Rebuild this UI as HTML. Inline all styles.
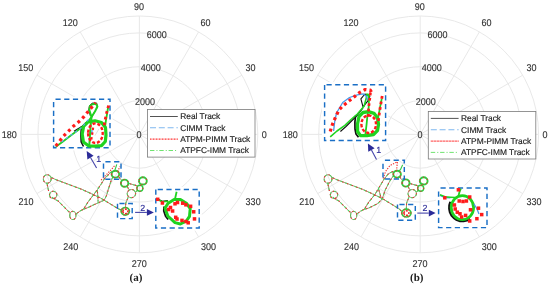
<!DOCTYPE html>
<html><head><meta charset="utf-8"><style>
html,body{margin:0;padding:0;background:#fff;}
svg{display:block;}
#w{width:550px;height:287px;overflow:hidden;}
.t{font-family:"Liberation Sans",Arial,sans-serif;font-size:9.8px;fill:#303030;stroke:#303030;stroke-width:0.12px;text-rendering:geometricPrecision;}
.lg{font-family:"Liberation Sans",Arial,sans-serif;font-size:8.4px;fill:#202020;stroke:#202020;stroke-width:0.15px;text-rendering:geometricPrecision;}
.an{font-family:"Liberation Sans",Arial,sans-serif;font-size:8.9px;fill:#2b2b98;stroke:#2b2b98;stroke-width:0.15px;text-rendering:geometricPrecision;}
.cap{font-family:"Liberation Serif","Times New Roman",serif;font-size:11px;font-weight:bold;fill:#202020;text-rendering:geometricPrecision;}
</style></head><body><div id="w">
<svg width="550" height="287" viewBox="0 0 550 287">
<rect width="550" height="287" fill="#fff"/>
<circle cx="139.4" cy="134.4" r="33.83" fill="none" stroke="#e7e7e7" stroke-width="0.95"/>
<circle cx="139.4" cy="134.4" r="67.66" fill="none" stroke="#e7e7e7" stroke-width="0.95"/>
<circle cx="139.4" cy="134.4" r="101.49" fill="none" stroke="#e7e7e7" stroke-width="0.95"/>
<circle cx="139.4" cy="134.4" r="118.4" fill="none" stroke="#e7e7e7" stroke-width="0.95"/>
<line x1="139.4" y1="134.4" x2="257.8" y2="134.4" stroke="#e7e7e7" stroke-width="0.95"/>
<line x1="139.4" y1="134.4" x2="241.94" y2="75.2" stroke="#e7e7e7" stroke-width="0.95"/>
<line x1="139.4" y1="134.4" x2="198.6" y2="31.86" stroke="#e7e7e7" stroke-width="0.95"/>
<line x1="139.4" y1="134.4" x2="139.4" y2="16" stroke="#e7e7e7" stroke-width="0.95"/>
<line x1="139.4" y1="134.4" x2="80.2" y2="31.86" stroke="#e7e7e7" stroke-width="0.95"/>
<line x1="139.4" y1="134.4" x2="36.86" y2="75.2" stroke="#e7e7e7" stroke-width="0.95"/>
<line x1="139.4" y1="134.4" x2="21" y2="134.4" stroke="#e7e7e7" stroke-width="0.95"/>
<line x1="139.4" y1="134.4" x2="36.86" y2="193.6" stroke="#e7e7e7" stroke-width="0.95"/>
<line x1="139.4" y1="134.4" x2="80.2" y2="236.94" stroke="#e7e7e7" stroke-width="0.95"/>
<line x1="139.4" y1="134.4" x2="139.4" y2="252.8" stroke="#e7e7e7" stroke-width="0.95"/>
<line x1="139.4" y1="134.4" x2="198.6" y2="236.94" stroke="#e7e7e7" stroke-width="0.95"/>
<line x1="139.4" y1="134.4" x2="241.94" y2="193.6" stroke="#e7e7e7" stroke-width="0.95"/>
<text transform="translate(139,9.5) scale(0.92,1)" text-anchor="middle" class="t">90</text>
<text transform="translate(200.6,26.3) scale(0.92,1)" text-anchor="start" class="t">60</text>
<text transform="translate(245.6,71.1) scale(0.92,1)" text-anchor="start" class="t">30</text>
<text transform="translate(261.7,137.9) scale(0.92,1)" text-anchor="start" class="t">0</text>
<text transform="translate(77.8,26.4) scale(0.92,1)" text-anchor="end" class="t">120</text>
<text transform="translate(33.3,71) scale(0.92,1)" text-anchor="end" class="t">150</text>
<text transform="translate(16.9,137.7) scale(0.92,1)" text-anchor="end" class="t">180</text>
<text transform="translate(33.6,205.2) scale(0.92,1)" text-anchor="end" class="t">210</text>
<text transform="translate(78.2,250) scale(0.92,1)" text-anchor="end" class="t">240</text>
<text transform="translate(139.15,266.8) scale(0.92,1)" text-anchor="middle" class="t">270</text>
<text transform="translate(201,250) scale(0.92,1)" text-anchor="start" class="t">300</text>
<text transform="translate(245.6,205.2) scale(0.92,1)" text-anchor="start" class="t">330</text>
<text transform="translate(139.1,137.85) scale(0.92,1)" text-anchor="middle" class="t">0</text>
<text transform="translate(144.97,104.54) scale(0.92,1)" text-anchor="middle" class="t">2000</text>
<text transform="translate(150.85,71.22) scale(0.92,1)" text-anchor="middle" class="t">4000</text>
<text transform="translate(156.72,37.91) scale(0.92,1)" text-anchor="middle" class="t">6000</text>
<path d="M50.6,177L55,179.3L82,189.4L100.4,197.9L118,208.6L122,210.5M46.9,183L48.6,191M52,197.2L55,199.5L57.9,200.8L63.8,206.7L68.8,211.7L70.3,212.5M76,214L80,211L83.5,209.3M83.5,209.3L88,202L93.5,194.8L97.5,189.5L101.5,183.5L104.5,178.7L110.5,172.5L112.6,171.5M83.5,209.3L88,207.5L97.3,203.2L104.2,200.2L106.5,195.5L108.8,187.9L111,181L113,176.5M97.3,190L97.8,196L98.1,201.7M118,176L121.6,180.3M126.6,185.8L129.5,190.2M135.5,192.2L137.8,190M128.3,183.3L137.3,185.8M141.5,185.4L142.2,184.3M128.2,197.2L125.8,203L125.4,207.4M43.35,178.95a3.9,4.2 0 1,0 7.8,0a3.9,4.2 0 1,0 -7.8,0M49.5,194.9a3.7,3.7 0 1,0 7.4,0a3.7,3.7 0 1,0 -7.4,0M69.75,215.45a3.1,4.1 0 1,0 6.2,0a3.1,4.1 0 1,0 -6.2,0M127.2,193.6a4.2,4.1 0 1,0 8.4,0a4.2,4.1 0 1,0 -8.4,0" fill="none" stroke="#8a7a50" stroke-width="0.8" stroke-linejoin="round"/>
<path d="M50.6,177L55,179.3L82,189.4L100.4,197.9L118,208.6L122,210.5M46.9,183L48.6,191M52,197.2L55,199.5L57.9,200.8L63.8,206.7L68.8,211.7L70.3,212.5M76,214L80,211L83.5,209.3M83.5,209.3L88,202L93.5,194.8L97.5,189.5L101.5,183.5L104.5,178.7L110.5,172.5L112.6,171.5M83.5,209.3L88,207.5L97.3,203.2L104.2,200.2L106.5,195.5L108.8,187.9L111,181L113,176.5M97.3,190L97.8,196L98.1,201.7M118,176L121.6,180.3M126.6,185.8L129.5,190.2M135.5,192.2L137.8,190M128.3,183.3L137.3,185.8M141.5,185.4L142.2,184.3M128.2,197.2L125.8,203L125.4,207.4M43.35,178.95a3.9,4.2 0 1,0 7.8,0a3.9,4.2 0 1,0 -7.8,0M49.5,194.9a3.7,3.7 0 1,0 7.4,0a3.7,3.7 0 1,0 -7.4,0M69.75,215.45a3.1,4.1 0 1,0 6.2,0a3.1,4.1 0 1,0 -6.2,0M127.2,193.6a4.2,4.1 0 1,0 8.4,0a4.2,4.1 0 1,0 -8.4,0" fill="none" stroke="#50d460" stroke-width="1.05" stroke-dasharray="2.4,2.6"/>
<path d="M50.6,177L55,179.3L82,189.4L100.4,197.9L118,208.6L122,210.5M46.9,183L48.6,191M52,197.2L55,199.5L57.9,200.8L63.8,206.7L68.8,211.7L70.3,212.5M76,214L80,211L83.5,209.3M83.5,209.3L88,202L93.5,194.8L97.5,189.5L101.5,183.5L104.5,178.7L110.5,172.5L112.6,171.5M83.5,209.3L88,207.5L97.3,203.2L104.2,200.2L106.5,195.5L108.8,187.9L111,181L113,176.5M97.3,190L97.8,196L98.1,201.7M118,176L121.6,180.3M126.6,185.8L129.5,190.2M135.5,192.2L137.8,190M128.3,183.3L137.3,185.8M141.5,185.4L142.2,184.3M128.2,197.2L125.8,203L125.4,207.4M43.35,178.95a3.9,4.2 0 1,0 7.8,0a3.9,4.2 0 1,0 -7.8,0M49.5,194.9a3.7,3.7 0 1,0 7.4,0a3.7,3.7 0 1,0 -7.4,0M69.75,215.45a3.1,4.1 0 1,0 6.2,0a3.1,4.1 0 1,0 -6.2,0M127.2,193.6a4.2,4.1 0 1,0 8.4,0a4.2,4.1 0 1,0 -8.4,0" fill="none" stroke="#e83434" stroke-width="1.1" stroke-dasharray="1.3,3.7" stroke-dashoffset="3.1"/>
<path d="M111.6,174.2a3.8,3.4 0 1,0 7.6,0a3.8,3.4 0 1,0 -7.6,0" fill="none" stroke="#2ecc40" stroke-width="1.9"/>
<path d="M111.6,174.2a3.8,3.4 0 1,0 7.6,0a3.8,3.4 0 1,0 -7.6,0" fill="none" stroke="#e83030" stroke-width="1.1" stroke-dasharray="1.2,3" />
<path d="M120.9,183.2a3.7,3.6 0 1,0 7.4,0a3.7,3.6 0 1,0 -7.4,0" fill="none" stroke="#2ecc40" stroke-width="1.9"/>
<path d="M120.9,183.2a3.7,3.6 0 1,0 7.4,0a3.7,3.6 0 1,0 -7.4,0" fill="none" stroke="#e83030" stroke-width="1.1" stroke-dasharray="1.2,3" />
<path d="M139,180.9a3.9,3.6 0 1,0 7.8,0a3.9,3.6 0 1,0 -7.8,0" fill="none" stroke="#2ecc40" stroke-width="1.9"/>
<path d="M139,180.9a3.9,3.6 0 1,0 7.8,0a3.9,3.6 0 1,0 -7.8,0" fill="none" stroke="#e83030" stroke-width="1.1" stroke-dasharray="1.2,3" />
<path d="M136.9,188.3a3,3 0 1,0 6,0a3,3 0 1,0 -6,0" fill="none" stroke="#2ecc40" stroke-width="1.4"/>
<path d="M136.9,188.3a3,3 0 1,0 6,0a3,3 0 1,0 -6,0" fill="none" stroke="#e83030" stroke-width="1.1" stroke-dasharray="1.2,3" />
<path d="M121.2,211.3a4.1,3.8 0 1,0 8.2,0a4.1,3.8 0 1,0 -8.2,0" fill="none" stroke="#2ecc40" stroke-width="1.7"/>
<path d="M121.2,211.3a4.1,3.8 0 1,0 8.2,0a4.1,3.8 0 1,0 -8.2,0" fill="none" stroke="#e83030" stroke-width="1.1" stroke-dasharray="1.2,3" />
<path d="M122.9,211.4a2.5,2.3 0 1,0 5,0a2.5,2.3 0 1,0 -5,0" fill="none" stroke="#f02828" stroke-width="1.6" stroke-dasharray="2,1.2"/>
<path d="M114.5,171.3L116.8,164.4" fill="none" stroke="#30cc40" stroke-width="1.1"/>
<path d="M117.4,171.6L120,166.5" fill="none" stroke="#f03030" stroke-width="1.1" stroke-dasharray="1.3,1.3"/>
<path d="M101.1,180.1L106,175L111,170L115.3,164.9" fill="none" stroke="#f03030" stroke-width="1.1" stroke-dasharray="1.3,1.3"/>
<rect x="147.5" y="109.5" width="107.5" height="47.6" fill="#fff" stroke="#7a7a7a" stroke-width="0.8"/>
<line x1="150" y1="116.5" x2="177.8" y2="116.5" stroke="#404040" stroke-width="0.9"/>
<text x="180.2" y="119.4" class="lg">Real Track</text>
<line x1="150" y1="127.8" x2="177.8" y2="127.8" stroke="#7fb8f0" stroke-width="1.1" stroke-dasharray="6,2.8"/>
<text x="180.2" y="130.7" class="lg">CIMM Track</text>
<line x1="150" y1="139.2" x2="177.8" y2="139.2" stroke="#ff2020" stroke-width="1.2" stroke-dasharray="0.9,0.6"/>
<text x="180.2" y="142.1" class="lg">ATPM-PIMM Track</text>
<line x1="150" y1="150.5" x2="177.8" y2="150.5" stroke="#60e060" stroke-width="0.9" stroke-dasharray="4.4,2,1.1,1.8"/>
<text x="180.2" y="153.4" class="lg">ATPFC-IMM Track</text>
<text x="136" y="280.9" text-anchor="middle" class="cap">(a)</text>
<circle cx="420.2" cy="134.4" r="33.83" fill="none" stroke="#e7e7e7" stroke-width="0.95"/>
<circle cx="420.2" cy="134.4" r="67.66" fill="none" stroke="#e7e7e7" stroke-width="0.95"/>
<circle cx="420.2" cy="134.4" r="101.49" fill="none" stroke="#e7e7e7" stroke-width="0.95"/>
<circle cx="420.2" cy="134.4" r="118.4" fill="none" stroke="#e7e7e7" stroke-width="0.95"/>
<line x1="420.2" y1="134.4" x2="538.6" y2="134.4" stroke="#e7e7e7" stroke-width="0.95"/>
<line x1="420.2" y1="134.4" x2="522.74" y2="75.2" stroke="#e7e7e7" stroke-width="0.95"/>
<line x1="420.2" y1="134.4" x2="479.4" y2="31.86" stroke="#e7e7e7" stroke-width="0.95"/>
<line x1="420.2" y1="134.4" x2="420.2" y2="16" stroke="#e7e7e7" stroke-width="0.95"/>
<line x1="420.2" y1="134.4" x2="361" y2="31.86" stroke="#e7e7e7" stroke-width="0.95"/>
<line x1="420.2" y1="134.4" x2="317.66" y2="75.2" stroke="#e7e7e7" stroke-width="0.95"/>
<line x1="420.2" y1="134.4" x2="301.8" y2="134.4" stroke="#e7e7e7" stroke-width="0.95"/>
<line x1="420.2" y1="134.4" x2="317.66" y2="193.6" stroke="#e7e7e7" stroke-width="0.95"/>
<line x1="420.2" y1="134.4" x2="361" y2="236.94" stroke="#e7e7e7" stroke-width="0.95"/>
<line x1="420.2" y1="134.4" x2="420.2" y2="252.8" stroke="#e7e7e7" stroke-width="0.95"/>
<line x1="420.2" y1="134.4" x2="479.4" y2="236.94" stroke="#e7e7e7" stroke-width="0.95"/>
<line x1="420.2" y1="134.4" x2="522.74" y2="193.6" stroke="#e7e7e7" stroke-width="0.95"/>
<text transform="translate(419.8,9.5) scale(0.92,1)" text-anchor="middle" class="t">90</text>
<text transform="translate(481.4,26.3) scale(0.92,1)" text-anchor="start" class="t">60</text>
<text transform="translate(526.4,71.1) scale(0.92,1)" text-anchor="start" class="t">30</text>
<text transform="translate(542.5,137.9) scale(0.92,1)" text-anchor="start" class="t">0</text>
<text transform="translate(358.6,26.4) scale(0.92,1)" text-anchor="end" class="t">120</text>
<text transform="translate(314.1,71) scale(0.92,1)" text-anchor="end" class="t">150</text>
<text transform="translate(297.7,137.7) scale(0.92,1)" text-anchor="end" class="t">180</text>
<text transform="translate(314.4,205.2) scale(0.92,1)" text-anchor="end" class="t">210</text>
<text transform="translate(359,250) scale(0.92,1)" text-anchor="end" class="t">240</text>
<text transform="translate(419.95,266.8) scale(0.92,1)" text-anchor="middle" class="t">270</text>
<text transform="translate(481.8,250) scale(0.92,1)" text-anchor="start" class="t">300</text>
<text transform="translate(526.4,205.2) scale(0.92,1)" text-anchor="start" class="t">330</text>
<text transform="translate(419.9,137.85) scale(0.92,1)" text-anchor="middle" class="t">0</text>
<text transform="translate(425.77,104.54) scale(0.92,1)" text-anchor="middle" class="t">2000</text>
<text transform="translate(431.65,71.22) scale(0.92,1)" text-anchor="middle" class="t">4000</text>
<text transform="translate(437.52,37.91) scale(0.92,1)" text-anchor="middle" class="t">6000</text>
<path d="M331.4,177L335.8,179.3L362.8,189.4L381.2,197.9L398.8,208.6L402,211.5M327.7,183L329.4,191M332.8,197.2L335.8,199.5L338.7,200.8L344.6,206.7L349.6,211.7L351.1,212.5M356.8,214L360.8,211L364.3,209.3M364.3,209.3L368.8,202L374.8,194.7L379.2,187.3L383.6,179.9L388.1,174L391.3,172.2L393.4,171.5M364.3,209.3L368.8,208L377.7,203.6L382.2,199.1L385.1,190.3L389.6,181.4L392.5,177L393.8,175.5M378.4,188.5L380,194L381.6,199.5M398.8,176L402.4,180.3M407.4,185.8L410.3,190.2M416.3,192.2L418.6,190M409.1,183.3L418.1,185.8M422.3,185.4L423,184.3M409,197.2L406.6,203L406.3,209.3M324.15,178.95a3.9,4.2 0 1,0 7.8,0a3.9,4.2 0 1,0 -7.8,0M330.3,194.9a3.7,3.7 0 1,0 7.4,0a3.7,3.7 0 1,0 -7.4,0M350.55,215.45a3.1,4.1 0 1,0 6.2,0a3.1,4.1 0 1,0 -6.2,0M408,193.6a4.2,4.1 0 1,0 8.4,0a4.2,4.1 0 1,0 -8.4,0" fill="none" stroke="#8a7a50" stroke-width="0.8" stroke-linejoin="round"/>
<path d="M331.4,177L335.8,179.3L362.8,189.4L381.2,197.9L398.8,208.6L402,211.5M327.7,183L329.4,191M332.8,197.2L335.8,199.5L338.7,200.8L344.6,206.7L349.6,211.7L351.1,212.5M356.8,214L360.8,211L364.3,209.3M364.3,209.3L368.8,202L374.8,194.7L379.2,187.3L383.6,179.9L388.1,174L391.3,172.2L393.4,171.5M364.3,209.3L368.8,208L377.7,203.6L382.2,199.1L385.1,190.3L389.6,181.4L392.5,177L393.8,175.5M378.4,188.5L380,194L381.6,199.5M398.8,176L402.4,180.3M407.4,185.8L410.3,190.2M416.3,192.2L418.6,190M409.1,183.3L418.1,185.8M422.3,185.4L423,184.3M409,197.2L406.6,203L406.3,209.3M324.15,178.95a3.9,4.2 0 1,0 7.8,0a3.9,4.2 0 1,0 -7.8,0M330.3,194.9a3.7,3.7 0 1,0 7.4,0a3.7,3.7 0 1,0 -7.4,0M350.55,215.45a3.1,4.1 0 1,0 6.2,0a3.1,4.1 0 1,0 -6.2,0M408,193.6a4.2,4.1 0 1,0 8.4,0a4.2,4.1 0 1,0 -8.4,0" fill="none" stroke="#50d460" stroke-width="1.05" stroke-dasharray="2.4,2.6"/>
<path d="M331.4,177L335.8,179.3L362.8,189.4L381.2,197.9L398.8,208.6L402,211.5M327.7,183L329.4,191M332.8,197.2L335.8,199.5L338.7,200.8L344.6,206.7L349.6,211.7L351.1,212.5M356.8,214L360.8,211L364.3,209.3M364.3,209.3L368.8,202L374.8,194.7L379.2,187.3L383.6,179.9L388.1,174L391.3,172.2L393.4,171.5M364.3,209.3L368.8,208L377.7,203.6L382.2,199.1L385.1,190.3L389.6,181.4L392.5,177L393.8,175.5M378.4,188.5L380,194L381.6,199.5M398.8,176L402.4,180.3M407.4,185.8L410.3,190.2M416.3,192.2L418.6,190M409.1,183.3L418.1,185.8M422.3,185.4L423,184.3M409,197.2L406.6,203L406.3,209.3M324.15,178.95a3.9,4.2 0 1,0 7.8,0a3.9,4.2 0 1,0 -7.8,0M330.3,194.9a3.7,3.7 0 1,0 7.4,0a3.7,3.7 0 1,0 -7.4,0M350.55,215.45a3.1,4.1 0 1,0 6.2,0a3.1,4.1 0 1,0 -6.2,0M408,193.6a4.2,4.1 0 1,0 8.4,0a4.2,4.1 0 1,0 -8.4,0" fill="none" stroke="#e83434" stroke-width="1.1" stroke-dasharray="1.3,3.7" stroke-dashoffset="3.1"/>
<path d="M393.3,174.2a3.8,3.4 0 1,0 7.6,0a3.8,3.4 0 1,0 -7.6,0" fill="none" stroke="#2ecc40" stroke-width="1.9"/>
<path d="M393.3,174.2a3.8,3.4 0 1,0 7.6,0a3.8,3.4 0 1,0 -7.6,0" fill="none" stroke="#e83030" stroke-width="1.1" stroke-dasharray="1.2,3" />
<path d="M402.1,183a3.7,3.6 0 1,0 7.4,0a3.7,3.6 0 1,0 -7.4,0" fill="none" stroke="#2ecc40" stroke-width="1.9"/>
<path d="M402.1,183a3.7,3.6 0 1,0 7.4,0a3.7,3.6 0 1,0 -7.4,0" fill="none" stroke="#e83030" stroke-width="1.1" stroke-dasharray="1.2,3" />
<path d="M419.8,180.9a3.9,3.6 0 1,0 7.8,0a3.9,3.6 0 1,0 -7.8,0" fill="none" stroke="#2ecc40" stroke-width="1.9"/>
<path d="M419.8,180.9a3.9,3.6 0 1,0 7.8,0a3.9,3.6 0 1,0 -7.8,0" fill="none" stroke="#e83030" stroke-width="1.1" stroke-dasharray="1.2,3" />
<path d="M417.7,188.3a3,3 0 1,0 6,0a3,3 0 1,0 -6,0" fill="none" stroke="#2ecc40" stroke-width="1.4"/>
<path d="M417.7,188.3a3,3 0 1,0 6,0a3,3 0 1,0 -6,0" fill="none" stroke="#e83030" stroke-width="1.1" stroke-dasharray="1.2,3" />
<path d="M401.8,213.1a4.6,3.9 0 1,0 9.2,0a4.6,3.9 0 1,0 -9.2,0" fill="none" stroke="#2ecc40" stroke-width="1.7"/>
<path d="M401.8,213.1a4.6,3.9 0 1,0 9.2,0a4.6,3.9 0 1,0 -9.2,0" fill="none" stroke="#e83030" stroke-width="1.1" stroke-dasharray="1.2,3" />
<path d="M403.9,213.1a2.5,2.3 0 1,0 5,0a2.5,2.3 0 1,0 -5,0" fill="none" stroke="#f02828" stroke-width="1.6" stroke-dasharray="2,1.2"/>
<path d="M383.2,178.5L385.5,171.5L390,165.5L397.4,161.8L397,166L396.6,170.5" fill="none" stroke="#f03030" stroke-width="1.1" stroke-dasharray="1.3,1.3"/>
<path d="M398.8,171L400.5,169.6L402.6,164.9" fill="none" stroke="#30cc40" stroke-width="1.1"/>
<rect x="51" y="96.6" width="61.6" height="53.8" fill="#fff"/><rect x="53.6" y="99.2" width="56.4" height="48.6" fill="none" stroke="#1a6fc6" stroke-width="1.45" stroke-dasharray="5.2,3.5" stroke-dashoffset="6.8"/>
<rect x="103.5" y="161.8" width="17.5" height="17.4" fill="none" stroke="#1a6fc6" stroke-width="1.45" stroke-dasharray="5.2,3.5" stroke-dashoffset="6.8"/>
<rect x="117.5" y="203.5" width="14.7" height="15.1" fill="none" stroke="#1a6fc6" stroke-width="1.45" stroke-dasharray="5.2,3.5" stroke-dashoffset="6.8"/>
<rect x="153.2" y="186.9" width="48.6" height="43.7" fill="#fff"/><rect x="155.8" y="189.5" width="43.4" height="38.5" fill="none" stroke="#1a6fc6" stroke-width="1.45" stroke-dasharray="5.2,3.5" stroke-dashoffset="6.8"/>
<line x1="96.6" y1="168" x2="90.49" y2="157.57" stroke="#4646aa" stroke-width="1.1"/><path d="M86.7,151.1L93.6,155.75L87.38,159.39Z" fill="#2b2b98"/>
<line x1="135.1" y1="212.4" x2="146.9" y2="212.4" stroke="#4646aa" stroke-width="1.1"/><path d="M153.9,212.4L146.9,215.8L146.9,209Z" fill="#2b2b98"/>
<text x="98.7" y="162" text-anchor="middle" class="an">1</text>
<text x="142.8" y="210.6" text-anchor="middle" class="an">2</text>
<path d="M95,135.5L99,128.8" fill="none" stroke="#d8d8d8" stroke-width="0.8" stroke-linejoin="round"/>
<path d="M81.6,126L80.9,134L81.2,142L83.5,146.5" fill="none" stroke="#111" stroke-width="1.6" stroke-linejoin="round"/>
<path d="M74,131.2L78,128.8L82,126.4L86,122.5" fill="none" stroke="#111" stroke-width="1.2" stroke-linejoin="round"/>
<path d="M90.4,116L88.8,110L89.4,106L92,103.2L96.6,103L97.5,107L94,113L91.5,117.5" fill="none" stroke="#111" stroke-width="1.0" stroke-linejoin="round"/>
<path d="M55.8,146.8L63,141.5L71.1,135.3L81.6,127.6L89.3,119.9L92.2,116.1" fill="none" stroke="#1fd31f" stroke-width="1.8" stroke-linejoin="round"/>
<path d="M91.5,117L89.3,110L90,106L92.5,104.2L96,103.8L97.4,106.5L95.1,111.3L91.5,117L90.8,124L90.3,130L89.8,138L89.3,145" fill="none" stroke="#1fd31f" stroke-width="2.0" stroke-linejoin="round"/>
<path d="M82.2,134L83.6,126.5L88,121.8L95,120.8L101.5,122.5L105.5,127.5L106,135L105.3,141.5L101.5,145.6L95,146.2L88.5,145.8L83.4,142Z" fill="none" stroke="#1fd31f" stroke-width="3.2" stroke-linejoin="round"/>
<path d="M108.3,106L107.2,113L106,120L105,127" fill="none" stroke="#1fd31f" stroke-width="1.8" stroke-linejoin="round"/>
<path d="M61.5,142L72,134.5L82,127.5L85.5,122.8L90,118" fill="none" stroke="#5aa8f0" stroke-width="1.2" stroke-linejoin="round" stroke-dasharray="2.5,3"/>
<path d="M92,130L91.8,134" fill="none" stroke="#4a98ea" stroke-width="1.3" stroke-linejoin="round"/>
<path d="M88.1,133.2a7.3,9.8 0 1,0 14.6,0a7.3,9.8 0 1,0 -14.6,0" fill="none" stroke="#ff1a1a" stroke-width="2.4" stroke-linejoin="round" stroke-dasharray="3.2,1.8"/>
<path d="M55.8,146L63.4,136.2L68.2,131.4L74,125.7L78.8,121.8L84.1,116.5L89,110.5L95.6,102.7" fill="none" stroke="#ff1a1a" stroke-width="3.2" stroke-linejoin="round" stroke-dasharray="3,3.4"/>
<path d="M108.6,105.5L106.8,112L105.3,119L104,126" fill="none" stroke="#ff1a1a" stroke-width="2.8" stroke-linejoin="round" stroke-dasharray="2.8,3"/>
<path d="M93.1,127.6L92.2,134L91.2,140" fill="none" stroke="#ff1a1a" stroke-width="2.2" stroke-linejoin="round" stroke-dasharray="2.4,2.4"/>
<path d="M164,206.5L163.8,211L165.6,216.2L168.2,219.5" fill="none" stroke="#111" stroke-width="1.8" stroke-linejoin="round"/>
<path d="M156.6,198.6L162.4,201.4L167.9,200.6" fill="none" stroke="#111" stroke-width="1.2" stroke-linejoin="round"/>
<path d="M157,199.2L162.4,201.8L168.4,201.2" fill="none" stroke="#1fd31f" stroke-width="1.6" stroke-linejoin="round"/>
<path d="M165,208L168.2,203.2L174.1,199.5L180.4,199.5L186.4,203.2L190.2,208.7L189.5,216.3L186.4,221L180.4,224L175,222.6L167.8,216Z" fill="none" stroke="#1fd31f" stroke-width="3.0" stroke-linejoin="round"/>
<path d="M174.9,199.5L176.6,191.8" fill="none" stroke="#1fd31f" stroke-width="1.8" stroke-linejoin="round"/>
<rect x="155.95" y="197.55" width="3.5" height="3.5" fill="#ff1a1a"/>
<rect x="160.65" y="201.25" width="3.5" height="3.5" fill="#ff1a1a"/>
<rect x="173.25" y="202.05" width="3.5" height="3.5" fill="#ff1a1a"/>
<rect x="175.75" y="200.75" width="3.5" height="3.5" fill="#ff1a1a"/>
<rect x="180.95" y="201.45" width="3.5" height="3.5" fill="#ff1a1a"/>
<rect x="184.15" y="203.05" width="3.5" height="3.5" fill="#ff1a1a"/>
<rect x="166.85" y="207.75" width="3.5" height="3.5" fill="#ff1a1a"/>
<rect x="170.85" y="209.25" width="3.5" height="3.5" fill="#ff1a1a"/>
<rect x="173.95" y="215.55" width="3.5" height="3.5" fill="#ff1a1a"/>
<rect x="175.25" y="217.25" width="3.5" height="3.5" fill="#ff1a1a"/>
<rect x="180.25" y="218.65" width="3.5" height="3.5" fill="#ff1a1a"/>
<rect x="186.45" y="221.05" width="3.5" height="3.5" fill="#ff1a1a"/>
<rect x="191.95" y="210.05" width="3.5" height="3.5" fill="#ff1a1a"/>
<rect x="192.75" y="217.15" width="3.5" height="3.5" fill="#ff1a1a"/>
<rect x="188.85" y="204.55" width="3.5" height="3.5" fill="#ff1a1a"/>
<rect x="168.75" y="205.75" width="3.5" height="3.5" fill="#ff1a1a"/>
<rect x="184.25" y="219.75" width="3.5" height="3.5" fill="#ff1a1a"/>
<rect x="322" y="82.2" width="66.2" height="60.9" fill="#fff"/><rect x="324.6" y="84.8" width="61" height="55.7" fill="none" stroke="#1a6fc6" stroke-width="1.45" stroke-dasharray="5.2,3.5" stroke-dashoffset="6.8"/>
<rect x="383" y="160.2" width="21.3" height="18.8" fill="none" stroke="#1a6fc6" stroke-width="1.45" stroke-dasharray="5.2,3.5" stroke-dashoffset="6.8"/>
<rect x="397.5" y="204.4" width="17.8" height="15.8" fill="none" stroke="#1a6fc6" stroke-width="1.45" stroke-dasharray="5.2,3.5" stroke-dashoffset="6.8"/>
<rect x="436" y="185.4" width="53.6" height="44.8" fill="#fff"/><rect x="438.6" y="188" width="48.4" height="39.6" fill="none" stroke="#1a6fc6" stroke-width="1.45" stroke-dasharray="5.2,3.5" stroke-dashoffset="6.8"/>
<line x1="376.5" y1="159.4" x2="371.45" y2="150.01" stroke="#4646aa" stroke-width="1.1"/><path d="M367.9,143.4L374.62,148.3L368.28,151.71Z" fill="#2b2b98"/>
<line x1="417.3" y1="213.1" x2="428.8" y2="213.1" stroke="#4646aa" stroke-width="1.1"/><path d="M435.6,213.1L428.8,216.4L428.8,209.8Z" fill="#2b2b98"/>
<text x="378.7" y="153" text-anchor="middle" class="an">1</text>
<text x="424.9" y="210.9" text-anchor="middle" class="an">2</text>
<path d="M355.6,115.5L354.9,122L355,129L356,134L358.5,137.2" fill="none" stroke="#111" stroke-width="1.7" stroke-linejoin="round"/>
<path d="M340.4,131.5L346,126.5L352,120.5L358,114.5L363,108" fill="none" stroke="#111" stroke-width="1.1" stroke-linejoin="round"/>
<path d="M363,106.9L360.9,98.9L364.9,94L369.9,96L367.9,100.9L363,106.9" fill="none" stroke="#111" stroke-width="1.1" stroke-linejoin="round"/>
<path d="M330.2,136.8L337,131L344.9,125.3L351,119.5L357.4,114L364.2,106L366,99L367,95" fill="none" stroke="#1fd31f" stroke-width="1.6" stroke-linejoin="round"/>
<path d="M366.2,94.2L368.7,94.7L368.9,101L368.7,107.2L367.5,115L366.5,125L365.3,135" fill="none" stroke="#1fd31f" stroke-width="1.8" stroke-linejoin="round"/>
<path d="M357.5,124L359,116.5L363,112.5L368.5,111.6L374,113.3L377.6,118L378.5,124.5L377.5,130.5L373.5,134.5L367,135.6L360.5,135.6L357.6,131.5Z" fill="none" stroke="#1fd31f" stroke-width="3.3" stroke-linejoin="round"/>
<path d="M381.8,98.5L380.3,106L378.8,114L377.3,122" fill="none" stroke="#1fd31f" stroke-width="1.7" stroke-linejoin="round"/>
<path d="M333.6,131L334.8,121L336.5,113L342.7,102.5L349.5,97.5L357.4,94.9L363,93.8L366.5,96.5L367.6,100" fill="none" stroke="#4a98ea" stroke-width="1.3" stroke-linejoin="round"/>
<path d="M361.4,124.2a7.3,8.8 0 1,0 14.6,0a7.3,8.8 0 1,0 -14.6,0" fill="none" stroke="#ff1a1a" stroke-width="2.4" stroke-linejoin="round" stroke-dasharray="3.2,1.8"/>
<path d="M330.2,131.5L332.5,124.2L335.9,116.2L339,110L342.7,106L348.3,101.5L354,97L359.6,92.5L365.3,89.5L370.3,90.2L372,93" fill="none" stroke="#ff1a1a" stroke-width="3.2" stroke-linejoin="round" stroke-dasharray="3,3.1"/>
<path d="M370.5,92.5L369.9,98L369,105L368.5,111L368.2,117" fill="none" stroke="#ff1a1a" stroke-width="2.6" stroke-linejoin="round" stroke-dasharray="2.8,2.6"/>
<path d="M382.2,96L380.8,104L379.5,112L378.2,122" fill="none" stroke="#ff1a1a" stroke-width="2.8" stroke-linejoin="round" stroke-dasharray="2.8,2.8"/>
<path d="M450.3,201.8L449.3,205.2L449.2,208.8L449.9,212.3L451.5,215.5L453.9,218.1L456.8,220L460.1,221.1L463.6,221.2L466.9,220.5L470,218.8" fill="none" stroke="#111" stroke-width="2.2" stroke-linejoin="round"/>
<path d="M440,195.4L445,197.6L450.4,197.8" fill="none" stroke="#4a98ea" stroke-width="1.4" stroke-linejoin="round"/>
<path d="M440,194.8L445,196.8L450.4,197.2L455,197.5" fill="none" stroke="#1fd31f" stroke-width="1.6" stroke-linejoin="round"/>
<path d="M451.2,207.6a11.2,12 0 1,0 22.4,0a11.2,12 0 1,0 -22.4,0" fill="none" stroke="#1fd31f" stroke-width="2.8" stroke-linejoin="round"/>
<path d="M458.4,196L459.5,192L460.8,188.6" fill="none" stroke="#1fd31f" stroke-width="1.8" stroke-linejoin="round"/>
<path d="M474,204L477,209L479,214" fill="none" stroke="#4a98ea" stroke-width="1.3" stroke-linejoin="round"/>
<rect x="443.05" y="196.05" width="3.5" height="3.5" fill="#ff1a1a"/>
<rect x="456.65" y="188.05" width="3.5" height="3.5" fill="#ff1a1a"/>
<rect x="467.95" y="195.25" width="3.5" height="3.5" fill="#ff1a1a"/>
<rect x="457.45" y="199.25" width="3.5" height="3.5" fill="#ff1a1a"/>
<rect x="464.65" y="199.25" width="3.5" height="3.5" fill="#ff1a1a"/>
<rect x="452.65" y="203.25" width="3.5" height="3.5" fill="#ff1a1a"/>
<rect x="453.45" y="207.25" width="3.5" height="3.5" fill="#ff1a1a"/>
<rect x="468.75" y="208.05" width="3.5" height="3.5" fill="#ff1a1a"/>
<rect x="476.75" y="206.45" width="3.5" height="3.5" fill="#ff1a1a"/>
<rect x="479.95" y="212.85" width="3.5" height="3.5" fill="#ff1a1a"/>
<rect x="475.15" y="216.95" width="3.5" height="3.5" fill="#ff1a1a"/>
<rect x="467.95" y="219.25" width="3.5" height="3.5" fill="#ff1a1a"/>
<rect x="458.25" y="212.05" width="3.5" height="3.5" fill="#ff1a1a"/>
<rect x="463.85" y="213.65" width="3.5" height="3.5" fill="#ff1a1a"/>
<rect x="459.85" y="215.25" width="3.5" height="3.5" fill="#ff1a1a"/>
<rect x="461.25" y="199.75" width="3.5" height="3.5" fill="#ff1a1a"/>
<rect x="455.55" y="210.45" width="3.5" height="3.5" fill="#ff1a1a"/>
<rect x="428.3" y="111.4" width="107.5" height="47.6" fill="#fff" stroke="#7a7a7a" stroke-width="0.8"/>
<line x1="430.8" y1="118.4" x2="458.6" y2="118.4" stroke="#404040" stroke-width="0.9"/>
<text x="461" y="121.3" class="lg">Real Track</text>
<line x1="430.8" y1="129.7" x2="458.6" y2="129.7" stroke="#7fb8f0" stroke-width="1.1" stroke-dasharray="6,2.8"/>
<text x="461" y="132.6" class="lg">CIMM Track</text>
<line x1="430.8" y1="141.1" x2="458.6" y2="141.1" stroke="#ff2020" stroke-width="1.2" stroke-dasharray="0.9,0.6"/>
<text x="461" y="144" class="lg">ATPM-PIMM Track</text>
<line x1="430.8" y1="152.4" x2="458.6" y2="152.4" stroke="#60e060" stroke-width="0.9" stroke-dasharray="4.4,2,1.1,1.8"/>
<text x="461" y="155.3" class="lg">ATPFC-IMM Track</text>
<text x="416.8" y="280.9" text-anchor="middle" class="cap">(b)</text>
</svg>
</div></body></html>
